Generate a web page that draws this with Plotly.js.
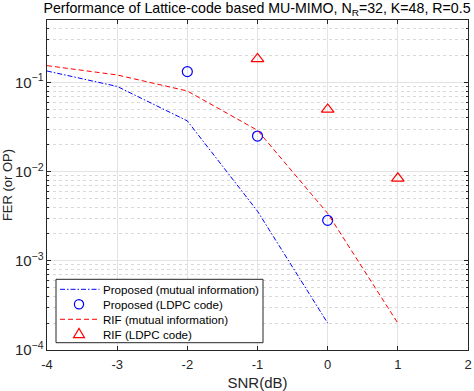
<!DOCTYPE html>
<html>
<head>
<meta charset="utf-8">
<script src="https://cdn.plot.ly/plotly-3.0.1.min.js"></script>
<style>html,body{margin:0;padding:0;background:#fff;}#chart{width:474px;height:391px;}</style>
</head>
<body>
<div id="chart"></div>
<script>
// Data
const snrMI = [-4, -3, -2, -1, 0];
const proposedMI = [0.134, 0.09, 0.037, 0.0036, 0.0002];
const snrLDPC = [-2, -1, 0];
const proposedLDPC = [0.132, 0.025, 0.00284];
const snrRifMI = [-4, -3, -2, -1, 0, 1];
const rifMI = [0.154, 0.121, 0.08, 0.029, 0.0034, 0.0002];
const snrRifLDPC = [-1, 0, 1];
const rifLDPC = [0.183, 0.0497, 0.0084];
const xTicks = [-4, -3, -2, -1, 0, 1, 2];
const legendNames = ['Proposed (mutual information)', 'Proposed (LDPC code)',
                     'RIF (mutual information)', 'RIF (LDPC code)'];

const font = 'Liberation Sans, Arial, sans-serif';
const W = 474, H = 391, M = {l: 47, r: 6, t: 20, b: 41};
const PW = W - M.l - M.r, PH = H - M.t - M.b;
const px = v => (v - M.l) / PW;       // page pixel -> paper x
const py = v => (H - M.b - v) / PH;   // page pixel -> paper y

const BLUE = '#0000ff', RED = '#ff0000';
const blueDash = '5px,2px,1.5px,2px';
const redDash = '5px,3px';

const traces = [
  {x: snrMI, y: proposedMI, mode: 'lines', name: legendNames[0],
   line: {color: BLUE, width: 1, dash: blueDash}},
  {x: snrLDPC, y: proposedLDPC, mode: 'markers', name: legendNames[1],
   marker: {symbol: 'circle-open', size: 10, color: BLUE, line: {width: 1.2}}},
  {x: snrRifMI, y: rifMI, mode: 'lines', name: legendNames[2],
   line: {color: RED, width: 1, dash: redDash}},
  {x: snrRifLDPC, y: rifLDPC, mode: 'markers', name: legendNames[3],
   marker: {symbol: 'triangle-up-open', size: 11, color: RED, line: {width: 1.2}}}
];

// Custom legend (compact, MATLAB-like)
const rowY = [289.3, 304.3, 319.3, 334];
const shapes = [
  {type: 'rect', xref: 'paper', yref: 'paper', x0: px(56), x1: px(263), y0: py(342.7), y1: py(279.3),
   fillcolor: '#fff', line: {color: '#262626', width: 1}, layer: 'above'},
  {type: 'line', xref: 'paper', yref: 'paper', x0: px(60), x1: px(99.5), y0: py(rowY[0]), y1: py(rowY[0]),
   line: {color: BLUE, width: 1, dash: blueDash}, layer: 'above'},
  {type: 'circle', xref: 'paper', yref: 'paper', xsizemode: 'pixel', ysizemode: 'pixel',
   xanchor: px(79), yanchor: py(rowY[1]), x0: -4.6, x1: 4.6, y0: -4.6, y1: 4.6,
   line: {color: BLUE, width: 1.2}, layer: 'above'},
  {type: 'line', xref: 'paper', yref: 'paper', x0: px(60), x1: px(99.5), y0: py(rowY[2]), y1: py(rowY[2]),
   line: {color: RED, width: 1, dash: redDash}, layer: 'above'},
  {type: 'path', xref: 'paper', yref: 'paper', xsizemode: 'pixel', ysizemode: 'pixel',
   xanchor: px(79), yanchor: py(rowY[3]), path: 'M -5.5 -3.6 L 5.5 -3.6 L 0 5.6 Z',
   line: {color: RED, width: 1.2}, layer: 'above'}
];
const annotations = legendNames.map((t, i) => ({
  text: t, xref: 'paper', yref: 'paper', x: px(101.5), y: py(rowY[i]),
  xanchor: 'left', yanchor: 'middle', showarrow: false, borderpad: 0,
  font: {family: font, size: 11.6, color: '#000'}
}));

const layout = {
  width: W, height: H, margin: M,
  paper_bgcolor: '#fff', plot_bgcolor: '#fff',
  font: {family: font, size: 12, color: '#262626'},
  title: {text: 'Performance of Lattice-code based MU-MIMO, N<sub>R</sub>=32, K=48, R=0.5',
          x: 257 / W, xref: 'container', xanchor: 'center', yref: 'container', y: 1 - 8 / H, yanchor: 'middle',
          font: {family: font, size: 14.2, color: '#000'}},
  showlegend: false,
  shapes: shapes,
  annotations: annotations,
  xaxis: {
    range: [-4, 2], tickvals: xTicks, ticktext: xTicks.map(String),
    ticks: 'inside', ticklen: 4, tickcolor: '#262626', mirror: 'ticks',
    showline: true, linecolor: '#262626', linewidth: 1,
    showgrid: true, gridcolor: '#e3e3e3', gridwidth: 1, zeroline: false,
    tickfont: {size: 13, color: '#262626'}, ticklabelstandoff: 2,
    title: {text: 'SNR(dB)', standoff: 6, font: {size: 15, color: '#262626'}}
  },
  yaxis: {
    type: 'log', range: [-4, Math.log10(0.5)], dtick: 1, exponentformat: 'power',
    ticks: 'inside', ticklen: 4, tickcolor: '#262626', mirror: 'ticks',
    showline: true, linecolor: '#262626', linewidth: 1,
    showgrid: true, gridcolor: '#e3e3e3', gridwidth: 1, zeroline: false,
    tickfont: {size: 12, color: '#262626'},
    minor: {dtick: 'D1', ticks: 'inside', ticklen: 2, tickcolor: '#262626',
            showgrid: true, gridcolor: '#d9d9d9', griddash: 'dot', gridwidth: 1},
    title: {text: 'FER (or OP)', standoff: 4, font: {size: 13, color: '#262626'}}
  }
};

Plotly.newPlot('chart', traces, layout, {staticPlot: true, displayModeBar: false});
</script>
</body>
</html>
